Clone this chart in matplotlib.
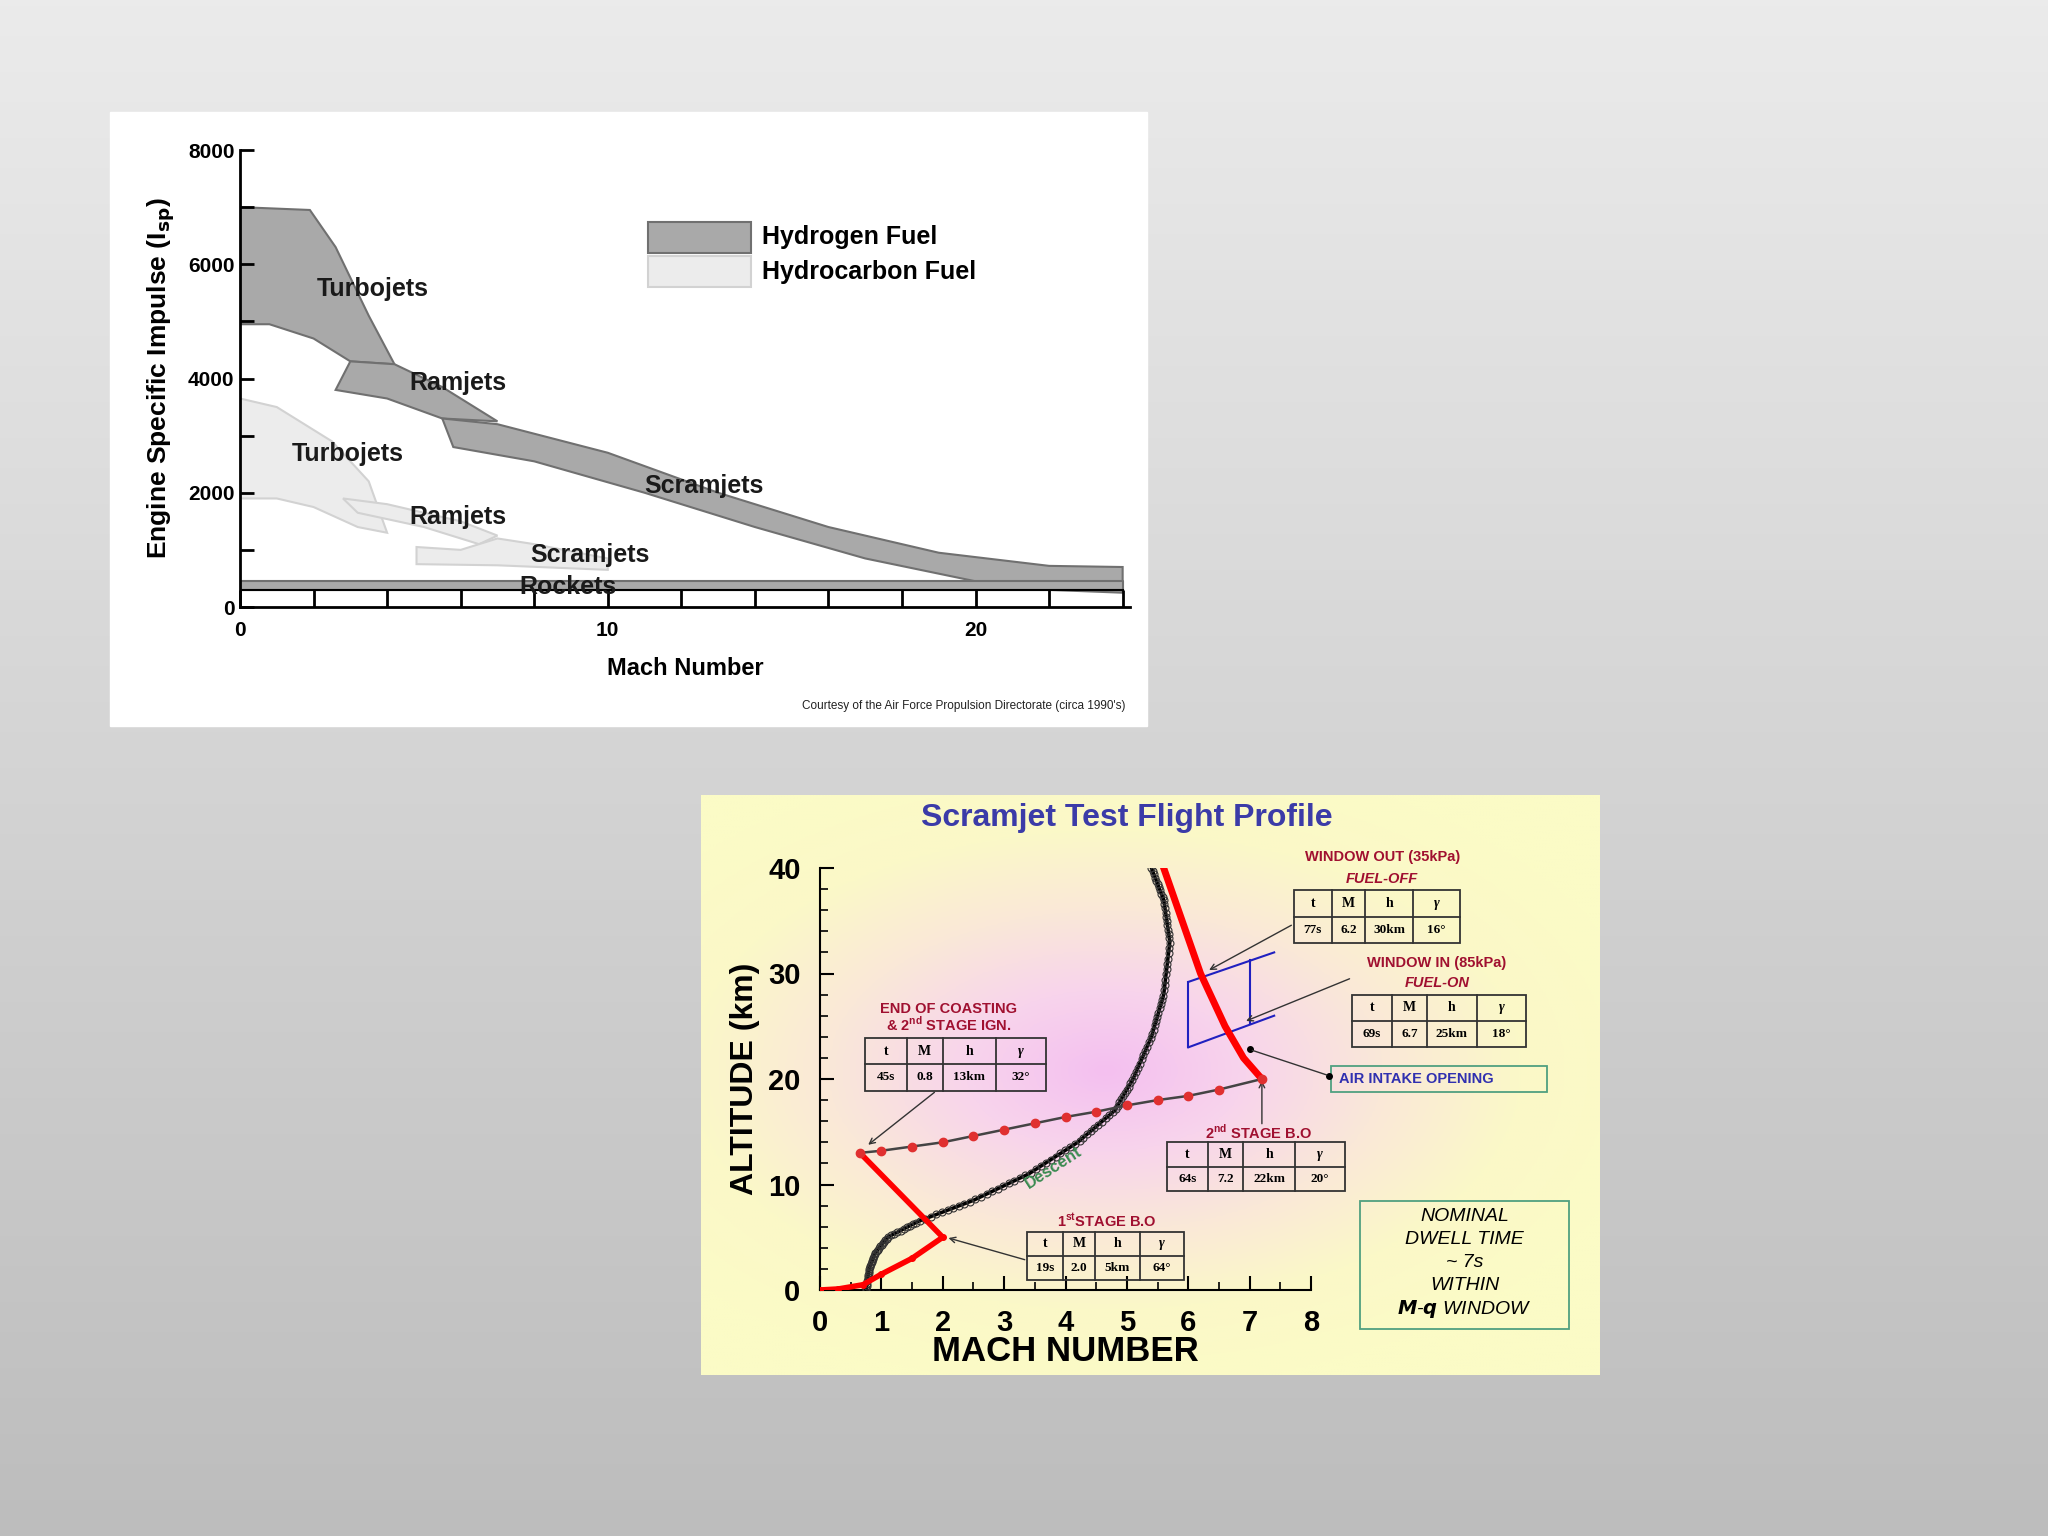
import numpy as np
import matplotlib
matplotlib.use("Agg")
import matplotlib.pyplot as plt
from matplotlib.patches import Rectangle, Polygon

# ---------------- data: chart 1 (Isp vs Mach) ----------------
h2_turbo_upper = [(0, 7000), (1.9, 6950), (2.6, 6300), (3.5, 5100), (4.2, 4250)]
h2_turbo_lower = [(0, 4950), (0.8, 4950), (2.0, 4700), (3.0, 4300), (4.2, 4250)]
h2_ram_upper = [(3.0, 4300), (4.2, 4250), (5.5, 3850), (7.0, 3250)]
h2_ram_lower = [(2.6, 3800), (4.0, 3650), (5.5, 3300), (7.0, 3250)]
h2_scram_upper = [(5.5, 3300), (7, 3200), (10, 2700), (13, 2000), (16, 1400), (19, 950), (22, 720), (24, 700)]
h2_scram_lower = [(5.8, 2800), (8, 2550), (11, 2000), (14, 1400), (17, 850), (20, 450), (22, 300), (24, 250)]
hc_turbo_upper = [(0, 3650), (1, 3500), (2.5, 2900), (3.5, 2200), (4.0, 1300)]
hc_turbo_lower = [(0, 1900), (1, 1900), (2, 1750), (3.2, 1400), (4.0, 1300)]
hc_ram_upper = [(2.8, 1900), (4, 1800), (6, 1500), (7, 1250)]
hc_ram_lower = [(3.2, 1650), (5, 1400), (6.5, 1100), (7, 1250)]
hc_scram_upper = [(4.8, 1050), (6, 1000), (7, 1200), (8, 1100), (10, 850)]
hc_scram_lower = [(4.8, 750), (7, 730), (10, 650)]
rocket_band = (300, 450)
c1_xticks = [0, 10, 20]
c1_yticks = [0, 2000, 4000, 6000, 8000]

# ---------------- data: chart 2 (flight profile) ----------------
ascent1_m = [0, 0.3, 0.7, 1.0, 1.5, 2.0, 0.65]
ascent1_h = [0, 0.1, 0.5, 1.5, 3.0, 5.0, 13.0]
ascent2_m = [0.65, 1.0, 1.5, 2.0, 2.5, 3.0, 3.5, 4.0, 4.5, 5.0, 5.5, 6.0, 6.5, 7.2]
ascent2_h = [13.0, 13.2, 13.6, 14.0, 14.6, 15.2, 15.8, 16.4, 16.9, 17.5, 18.0, 18.4, 19.0, 20.0]
ascent3_m = [7.2, 6.9, 6.6, 6.2, 5.9, 5.6]
ascent3_h = [20, 22, 25, 30, 35, 40]
descent_m = [5.4, 5.6, 5.7, 5.6, 5.4, 5.1, 4.8, 4.2, 3.4, 2.5, 1.6, 1.1, 0.9, 0.8, 0.75]
descent_h = [40, 37, 33, 28, 24, 20, 17, 14, 11, 8.5, 6.5, 5.0, 3.5, 2.0, 0]
tables = [
    (7.72, 10.42, 32.9, 37.9, ["77s", "6.2", "30km", "16°"]),
    (8.67, 11.50, 23.0, 28.0, ["69s", "6.7", "25km", "18°"]),
    (0.73, 3.69, 18.9, 23.9, ["45s", "0.8", "13km", "32°"]),
    (5.65, 8.55, 9.4, 14.0, ["64s", "7.2", "22km", "20°"]),
    (3.38, 5.93, 0.96, 5.5, ["19s", "2.0", "5km", "64°"]),
]

W, H = 2048, 1536
fig = plt.figure(figsize=(20.48, 15.36), dpi=100)
plt.rcParams['font.family'] = ['Liberation Sans', 'DejaVu Sans']

bg = fig.add_axes([0, 0, 1, 1])
grad = np.linspace(0, 1, 256).reshape(-1, 1)
bg.imshow(grad, aspect='auto', cmap=matplotlib.colors.LinearSegmentedColormap.from_list('g', ['#ebebeb', '#bdbdbd']),
          extent=[0, 1, 0, 1], origin='upper')
bg.set_axis_off()

def fr(x0, y0, x1, y1):
    return [x0 / W, 1 - y1 / H, (x1 - x0) / W, (y1 - y0) / H]

# ---------------- chart 1 ----------------
bg.add_patch(Rectangle((110 / W, 1 - 726 / H), (1147 - 110) / W, (726 - 112) / H, color='white', zorder=2))
ax1 = fig.add_axes(fr(240, 150, 1130, 607))
ax1.patch.set_alpha(0)
ax1.set_xlim(0, 24.2)
ax1.set_ylim(0, 8000)

def band(ax, up, lo, fc, ec):
    pts = list(up) + list(reversed(lo))
    ax.add_patch(Polygon(pts, closed=True, facecolor=fc, edgecolor=ec, lw=1.5))

hc = ('#ececec', '#d2d2d2')
h2 = ('#a9a9a9', '#707070')
band(ax1, hc_turbo_upper, hc_turbo_lower, *hc)
band(ax1, hc_ram_upper, hc_ram_lower, *hc)
band(ax1, hc_scram_upper, hc_scram_lower, *hc)
band(ax1, h2_turbo_upper, h2_turbo_lower, *h2)
band(ax1, h2_ram_upper, h2_ram_lower, *h2)
band(ax1, h2_scram_upper, h2_scram_lower, *h2)
ax1.fill_between([0, 24], rocket_band[0], rocket_band[1], facecolor='#a9a9a9', edgecolor='#707070', lw=1.5)
ax1.axhline(rocket_band[0], xmax=24 / 24.2, color='black', lw=1.5)

for s in ['top', 'right']:
    ax1.spines[s].set_visible(False)
for s in ['left', 'bottom']:
    ax1.spines[s].set_linewidth(2)
ax1.set_xticks(c1_xticks)
ax1.set_xticks(np.arange(0, 25, 2), minor=True)
ax1.set_yticks(c1_yticks)
ax1.set_yticks(np.arange(0, 8001, 1000), minor=True)
ax1.tick_params(axis='x', which='both', direction='in', length=12, width=2, labelsize=15, pad=10)
ax1.tick_params(axis='y', which='both', direction='in', length=10, width=2, labelsize=15, pad=4)
for t in ax1.get_xticklabels() + ax1.get_yticklabels():
    t.set_fontweight('bold')
ax1.set_xlabel('Mach Number', fontsize=17, fontweight='bold', labelpad=12)
ax1.set_ylabel('Engine Specific Impulse (I$_{\\mathbf{sp}}$)', fontsize=19, fontweight='bold', labelpad=8)
lab = dict(fontsize=18, fontweight='bold', color='#1a1a1a')
ax1.text(2.1, 5450, 'Turbojets', **lab)
ax1.text(4.6, 3800, 'Ramjets', **lab)
ax1.text(11.0, 2000, 'Scramjets', **lab)
ax1.text(1.4, 2550, 'Turbojets', **lab)
ax1.text(4.6, 1450, 'Ramjets', **lab)
ax1.text(7.9, 780, 'Scramjets', **lab)
ax1.text(7.6, 230, 'Rockets', **lab)
ax1.add_patch(Rectangle((11.1, 6200), 2.8, 540, facecolor=h2[0], edgecolor=h2[1], lw=1.5, clip_on=False))
ax1.add_patch(Rectangle((11.1, 5600), 2.8, 540, facecolor=hc[0], edgecolor=hc[1], lw=1.5, clip_on=False))
ax1.text(14.2, 6470, 'Hydrogen Fuel', fontsize=18, fontweight='bold', va='center')
ax1.text(14.2, 5870, 'Hydrocarbon Fuel', fontsize=18, fontweight='bold', va='center')
fig.text(1125 / W, 1 - 706 / H, "Courtesy of the Air Force Propulsion Directorate (circa 1990's)",
         fontsize=8.5, ha='right', va='center', color='#222222')

# ---------------- chart 2 ----------------
pax = fig.add_axes(fr(701, 795, 1600, 1375))
xx, yy = np.meshgrid(np.linspace(-1, 1, 300), np.linspace(-1, 1, 200))
r = np.clip(np.sqrt((xx + 0.1) ** 2 * 0.8 + (yy + 0.05) ** 2) / 1.1, 0, 1)
cm2 = matplotlib.colors.LinearSegmentedColormap.from_list('p', ['#f4c0f0', '#f8d4ec', '#fae8d8', '#fbf8c8', '#fbfbc6'])
pax.imshow(r, aspect='auto', cmap=cm2, extent=[0, 1, 0, 1])
pax.set_axis_off()

ax2 = fig.add_axes(fr(820, 868, 1311, 1290))
ax2.patch.set_alpha(0)
ax2.set_xlim(0, 8)
ax2.set_ylim(0, 40)
for s in ['top', 'right']:
    ax2.spines[s].set_visible(False)
for s in ['left', 'bottom']:
    ax2.spines[s].set_linewidth(1.5)
ax2.set_xticks(range(0, 9))
ax2.set_xticks(np.arange(0, 8.01, 0.5), minor=True)
ax2.set_yticks(range(0, 41, 10))
ax2.set_yticks(range(0, 41, 2), minor=True)
ax2.tick_params(axis='both', which='major', direction='in', length=10, width=1.5, labelsize=21)
ax2.tick_params(axis='both', which='minor', direction='in', length=6, width=1.2)
ax2.tick_params(axis='y', pad=14)
ax2.tick_params(axis='x', pad=14)
for t in ax2.get_xticklabels() + ax2.get_yticklabels():
    t.set_fontweight('bold')
ax2.set_xlabel('MACH NUMBER', fontsize=25, fontweight='bold', labelpad=-2)
ax2.set_ylabel('ALTITUDE (km)', fontsize=23, fontweight='bold', labelpad=6)
ax2.text(5.0, 44.7, 'Scramjet Test Flight Profile', fontsize=23, fontweight='bold', color='#3b3ba8',
         ha='center', va='center', clip_on=False)

ax2.plot(descent_m, descent_h, color='black', lw=2.5, zorder=3)
dm = np.interp(np.linspace(0, 1, 140), np.linspace(0, 1, len(descent_m)), descent_m)
dh = np.interp(np.linspace(0, 1, 140), np.linspace(0, 1, len(descent_h)), descent_h)
ax2.plot(dm, dh, 'o', mfc='none', mec='#333333', ms=5, mew=0.8, zorder=3)
ax2.plot(ascent1_m, ascent1_h, color='red', lw=4, zorder=4)
ax2.plot(ascent1_m[:6], ascent1_h[:6], 'o', color='red', ms=4, zorder=4)
ax2.plot(ascent2_m, ascent2_h, color='#444444', lw=1.8, zorder=4)
ax2.plot(ascent2_m, ascent2_h, 'o', color='#e03030', ms=6, zorder=5)
ax2.plot(ascent3_m, ascent3_h, color='red', lw=5, zorder=4)

wb = '#2020c0'
ax2.plot([6.0, 7.4], [29.2, 32.0], color=wb, lw=1.5, zorder=2)
ax2.plot([6.0, 7.4], [23.0, 26.0], color=wb, lw=1.5, zorder=2, clip_on=False)
ax2.plot([6.0, 6.0], [23.0, 29.2], color=wb, lw=1.5, zorder=2)
ax2.plot([7.0, 7.0], [25.2, 31.3], color=wb, lw=1.5, zorder=2)

def table(x0, x1, y0, y1, vals):
    ax2.add_patch(Rectangle((x0, y0), x1 - x0, y1 - y0, fill=False, ec='#333333', lw=1.3, clip_on=False, zorder=6))
    ym = (y0 + y1) / 2
    ax2.plot([x0, x1], [ym, ym], color='#333333', lw=1.3, clip_on=False, zorder=6)
    fr_ = [0, 0.23, 0.43, 0.72, 1.0]
    xs = [x0 + f * (x1 - x0) for f in fr_]
    for xv in xs[1:-1]:
        ax2.plot([xv, xv], [y0, y1], color='#333333', lw=1.3, clip_on=False, zorder=6)
    for i, (h, v) in enumerate(zip(['t', 'M', 'h', 'γ'], vals)):
        xc = (xs[i] + xs[i + 1]) / 2
        ax2.text(xc, (ym + y1) / 2, h, ha='center', va='center', fontsize=10, fontweight='bold',
                 family=['Liberation Serif', 'DejaVu Serif'], style='italic' if h == 'γ' else 'normal', clip_on=False)
        ax2.text(xc, (ym + y0) / 2, v, ha='center', va='center', fontsize=9.5, fontweight='bold',
                 family=['Liberation Serif', 'DejaVu Serif'], clip_on=False)

for t in tables:
    table(*t)

dr = '#a01030'
tk = dict(ha='center', va='center', fontsize=10.5, fontweight='bold', color=dr, clip_on=False)
ax2.text(9.16, 41.0, 'WINDOW OUT (35kPa)', **tk)
ax2.text(9.16, 39.0, 'FUEL-OFF', style='italic', **tk)
ax2.text(10.05, 31.0, 'WINDOW IN (85kPa)', **tk)
ax2.text(10.05, 29.1, 'FUEL-ON', style='italic', **tk)
ax2.text(2.1, 26.6, 'END OF COASTING', **tk)
ax2.text(2.1, 25.2, '& 2$^{\\mathregular{nd}}$ STAGE IGN.', **tk)
ax2.text(7.15, 14.9, '2$^{\\mathregular{nd}}$ STAGE B.O', **tk)
ax2.text(4.67, 6.5, '1$^{\\mathregular{st}}$STAGE B.O', **tk)

ax2.add_patch(Rectangle((8.32, 18.75), 3.53, 2.45, fc='none', ec='#50a080', lw=1.3, clip_on=False))
ax2.text(8.45, 20.0, 'AIR INTAKE OPENING', ha='left', va='center', fontsize=10.5, fontweight='bold',
         color='#3030b0', clip_on=False)
ax2.plot([8.3], [20.3], 'o', color='black', ms=4, clip_on=False)
ax2.add_patch(Rectangle((8.8, -3.7), 3.4, 12.1, fc='none', ec='#50a080', lw=1.3, clip_on=False))
for i, s in enumerate(['NOMINAL', 'DWELL TIME', '~ 7s', 'WITHIN']):
    ax2.text(10.5, 7.0 - i * 2.2, s, ha='center', va='center', fontsize=14, style='italic', clip_on=False)
ax2.text(10.5, -1.8, '$\\mathbfit{M}$-$\\mathbfit{q}$ WINDOW', ha='center', va='center', fontsize=14,
         style='italic', clip_on=False)
ax2.text(3.8, 11.6, 'Descent', rotation=33, fontsize=12, fontweight='bold', color='#3a8a50',
         ha='center', va='center', zorder=6)

ar = dict(arrowstyle='->', color='#333333', lw=1.0)
ax2.annotate('', xy=(6.3, 30.2), xytext=(7.72, 34.7), arrowprops=ar, annotation_clip=False)
ax2.annotate('', xy=(6.9, 25.4), xytext=(8.67, 29.6), arrowprops=ar, annotation_clip=False)
ax2.annotate('', xy=(0.75, 13.6), xytext=(1.9, 18.9), arrowprops=ar, annotation_clip=False)
ax2.annotate('', xy=(7.2, 20.1), xytext=(7.2, 15.5), arrowprops=ar, annotation_clip=False)
ax2.annotate('', xy=(2.05, 5.0), xytext=(3.38, 2.8), arrowprops=ar, annotation_clip=False)
ax2.annotate('', xy=(7.0, 22.8), xytext=(8.3, 20.3), arrowprops=dict(arrowstyle='-', color='#333333', lw=1.0),
             annotation_clip=False)
ax2.plot([7.0], [22.8], 'o', color='black', ms=4)

fig.savefig('out.png', dpi=100)
